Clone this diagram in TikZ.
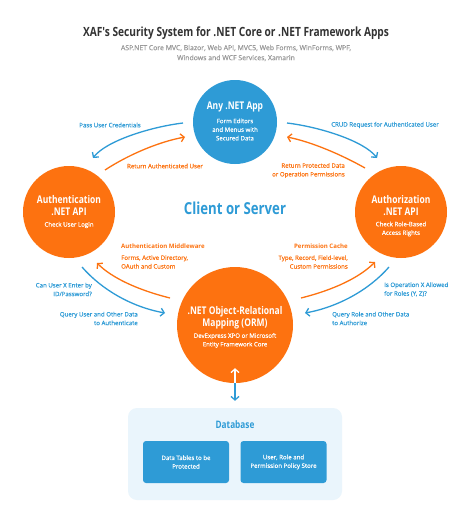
\documentclass[tikz,border=0pt]{standalone}
\usepackage{fontspec}
\setmainfont{Open Sans}
\newfontfamily\cond{Open Sans}[FakeStretch=0.8]
\newfontfamily\semi{Open Sans}[FakeBold=0.5]
\usetikzlibrary{arrows.meta,calc}
\definecolor{xorange}{HTML}{FD7210}
\definecolor{xblue}{HTML}{2E9BD6}
\definecolor{dbfill}{HTML}{EAF5FC}
\definecolor{titlegray}{HTML}{333333}
\definecolor{subgray}{HTML}{9A9A9A}
\begin{document}
\begin{tikzpicture}[x=1pt,y=-1pt,
  circ/.style={circle,fill=xorange,minimum size=#1,inner sep=0pt},
  head/.style={text=white,inner sep=0pt,align=center,font=\cond\bfseries\fontsize{10.6}{11.5}\selectfont},
  body/.style={text=white,inner sep=0pt,align=center,font=\semi\fontsize{6.1}{8.6}\selectfont},
  lbl/.style={inner sep=0pt,font=\semi\fontsize{6.1}{8.7}\selectfont},
  lblb/.style={inner sep=0pt,font=\bfseries\fontsize{6.1}{8.7}\selectfont},
  arr/.style={line width=1.3pt,-{Straight Barb[length=3.5pt,width=8pt]}},
  bluearr/.style={arr,draw=xblue},
  orarr/.style={arr,draw=xorange},
  dbbox/.style={fill=xblue,rounded corners=3pt,minimum width=86pt,minimum height=42pt,inner sep=0pt,text=white,align=center,font=\semi\fontsize{6.1}{8.6}\selectfont}
]
\useasboundingbox[fill=white] (0,0) rectangle (474,527);

% title
\node[inner sep=0pt,text=titlegray,font=\cond\bfseries\fontsize{12.7}{14}\selectfont] (title) at (236,33) {XAF's Security System for .NET Core or .NET Framework Apps};
\node[inner sep=0pt,text=subgray,align=center,font=\semi\fontsize{6.9}{10}\selectfont] (sub) at (236,53) {ASP.NET Core MVC, Blazor, Web API, MVC5, Web Forms, WinForms, WPF,\\Windows and WCF Services, Xamarin};

% circles
\node[circ=84pt,fill=xblue] (app) at (235,122) {};
\node[circ=92pt] (auth) at (69,212) {};
\node[circ=92pt] (authz) at (401,212) {};
\node[circ=116pt] (orm) at (235,325) {};

\node[head] (apph) at (235,107) {Any .NET App};
\node[body] (appb) at (235,129.5) {Form Editors\\and Menus with\\Secured Data};
\node[head] (authh) at (69,205.5) {Authentication\\.NET API};
\node[body] (authb) at (69,225) {Check User Login};
\node[head] (authzh) at (401,205.5) {Authorization\\.NET API};
\node[body] (authzb) at (401,229) {Check Role-Based\\Access Rights};
\node[head] (ormh) at (235,317.5) {.NET Object-Relational\\Mapping (ORM)};
\node[body] (ormb) at (235,340.5) {DevExpress XPO or Microsoft\\Entity Framework Core};

\node[inner sep=0pt,text=xblue,font=\cond\bfseries\fontsize{16.5}{18}\selectfont] (cs) at (235,208) {Client or Server};

% top-left arcs
\draw[bluearr] ($(app)+(-52,1)$) .. controls (150,127) and (106,141) .. ($(auth)+(24,-54)$);
\draw[orarr] ($(auth)+(36,-42)$) .. controls (128,155) and (158,142) .. ($(app)+(-50,15)$);
% top-right arcs
\draw[bluearr] ($(app)+(52,1)$) .. controls (320,127) and (364,141) .. ($(authz)+(-24,-54)$);
\draw[orarr] ($(authz)+(-36,-44)$) .. controls (342,155) and (312,142) .. ($(app)+(52,15)$);
% bottom-left arcs
\draw[orarr] ($(orm)+(-65,-27)$) .. controls (138,290) and (112,278) .. ($(auth)+(28,51)$);
\draw[bluearr] ($(auth)+(13,55)$) .. controls (102,290) and (132,307) .. ($(orm)+(-70,-12)$);
% bottom-right arcs
\draw[orarr] ($(orm)+(66,-27)$) .. controls (333,290) and (359,278) .. ($(authz)+(-26,50)$);
\draw[bluearr] ($(authz)+(-12,55)$) .. controls (369,290) and (338,307) .. ($(orm)+(70,-12)$);

% labels
\node[lbl,text=xblue] (l1) at (110,125) {Pass User Credentials};
\node[lbl,text=xblue] (l2) at (385,125) {CRUD Request for Authenticated User};
\node[lbl,text=xorange] (l3) at (165,166) {Return Authenticated User};
\node[lbl,text=xorange,anchor=east,align=right] (l4) at (345,170.5) {Return Protected Data\\or Operation Permissions};
\node[lblb,text=xorange,anchor=west] (l5) at (121,246) {Authentication Middleware};
\node[lbl,text=xorange,anchor=west,align=left] (l6) at (121,262) {Forms, Active Directory,\\OAuth and Custom};
\node[lbl,text=xblue,anchor=east,align=right] (l7) at (92,289.5) {Can User X Enter by\\ID/Password?};
\node[lbl,text=xblue,anchor=east,align=right] (l8) at (138,318.5) {Query User and Other Data\\to Authenticate};
\node[lblb,text=xorange,anchor=east] (l9) at (348,246) {Permission Cache};
\node[lbl,text=xorange,anchor=east,align=right] (l10) at (348,262) {Type, Record, Field-level,\\Custom Permissions};
\node[lbl,text=xblue,anchor=west,align=left] (l11) at (384,289.5) {Is Operation X Allowed\\for Roles (Y, Z)?};
\node[lbl,text=xblue,anchor=west,align=left] (l12) at (332,318.5) {Query Role and Other Data\\to Authorize};

% database
\node[fill=dbfill,rounded corners=9pt,minimum width=214pt,minimum height=92pt,inner sep=0pt] (db) at (235,454) {};
\node[inner sep=0pt,text=xblue,font=\cond\bfseries\fontsize{10.3}{11}\selectfont] (dbt) at (235,425) {Database};
\node[dbbox] (t1) at (186,462) {Data Tables to be\\Protected};
\node[dbbox] (t2) at (283.5,462) {User, Role and\\Permission Policy Store};

% ORM <-> database
\draw[arr,draw=white] (orm.south) -- ($(orm.south)+(0,-15)$);
\draw[bluearr] (orm.south) -- ($(db.north)+(0,-7)$);
\end{tikzpicture}
\end{document}
